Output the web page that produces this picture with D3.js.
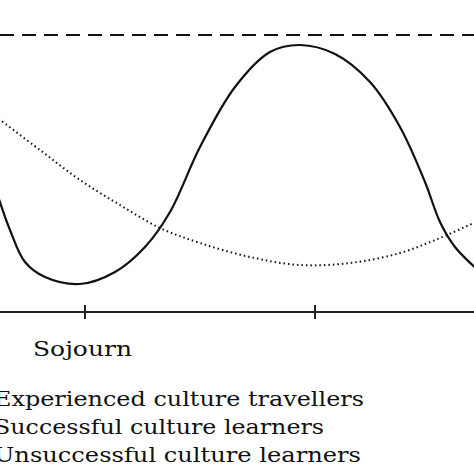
<!DOCTYPE html>
<html>
<head>
<meta charset="UTF-8">
<script src="https://d3js.org/d3.v7.min.js"></script>
<style>
  body { margin: 0; background: #fff; }
  text { font-family: "DejaVu Serif", "Liberation Serif", serif; fill: #111; }
</style>
</head>
<body>
<svg width="474" height="474"></svg>
<script>
// time along the sojourn (arbitrary units) and adjustment level above the axis
const timeSolid = [-5, 10, 25, 45, 80, 115, 145, 170, 200, 235, 270, 300, 335, 370, 400, 425, 440, 455, 480];
const successful = [125, 82, 50, 35, 28, 40, 65, 100, 165, 225, 260, 267, 258, 230, 185, 130, 90, 65, 40];
const timeDotted = [-5, 40, 80, 120, 160, 200, 250, 300, 350, 400, 440, 480];
const unsuccessful = [196, 162, 132, 107, 84, 69, 55, 47, 49, 59, 74, 92];
const experienced = 277;
const tickTimes = [85, 315];
const legendLabels = ["Experienced culture travellers", "Successful culture learners", "Unsuccessful culture learners"];
const legendWidths = [370, 330, 367];

const svg = d3.select("svg");
const x = d3.scaleLinear().domain([0, 474]).range([0, 474]);
const y = d3.scaleLinear().domain([0, 312]).range([312, 0]);

// axis
svg.append("line").attr("x1", 0).attr("x2", 474).attr("y1", y(0)).attr("y2", y(0))
  .attr("stroke", "#222").attr("stroke-width", 2);
svg.selectAll(".tick").data(tickTimes).enter().append("line")
  .attr("x1", d => x(d)).attr("x2", d => x(d)).attr("y1", y(0) - 7).attr("y2", y(0) + 7)
  .attr("stroke", "#222").attr("stroke-width", 2);

// experienced: dashed
svg.append("line").attr("x1", 0).attr("x2", 474).attr("y1", y(experienced)).attr("y2", y(experienced))
  .attr("stroke", "#111").attr("stroke-width", 2).attr("stroke-dasharray", "14,8");

const line = d3.line().curve(d3.curveCatmullRom);
svg.append("path")
  .attr("d", line(timeSolid.map((t, i) => [x(t), y(successful[i])])))
  .attr("fill", "none").attr("stroke", "#111").attr("stroke-width", 2.2);
svg.append("path")
  .attr("d", line(timeDotted.map((t, i) => [x(t), y(unsuccessful[i])])))
  .attr("fill", "none").attr("stroke", "#111").attr("stroke-width", 2).attr("stroke-dasharray", "1.5,3");

svg.append("text").attr("x", 33).attr("y", 356).attr("font-size", 21)
  .attr("textLength", 99).attr("lengthAdjust", "spacingAndGlyphs").text("Sojourn");

svg.selectAll(".leg").data(legendLabels).enter().append("text")
  .attr("x", -6).attr("y", (d, i) => 406 + i * 28)
  .attr("font-size", 21)
  .attr("textLength", (d, i) => legendWidths[i]).attr("lengthAdjust", "spacingAndGlyphs")
  .text(d => d);
</script>
</body>
</html>
